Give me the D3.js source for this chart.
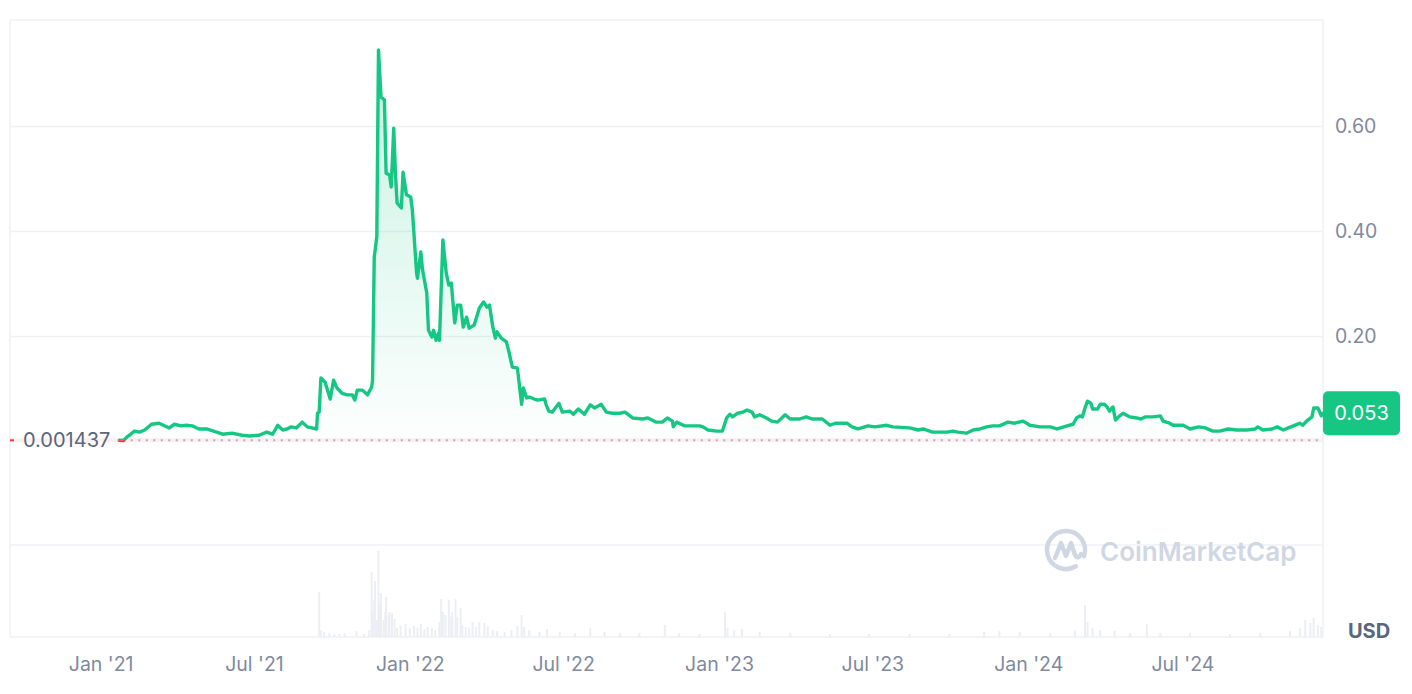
<!DOCTYPE html>
<html>
<head>
<meta charset="utf-8">
<script src="https://cdn.jsdelivr.net/npm/d3@7"></script>
<style>
  html, body { margin: 0; padding: 0; background: #fff; }
  svg { display: block; font-family: Inter, "Noto Sans", sans-serif; }
</style>
</head>
<body>
<svg id="chart" width="1412" height="694"></svg>
<script>
// price series (USD)
const priceDates = [
  "2021-01-23","2021-01-28","2021-02-01","2021-02-10","2021-02-16","2021-02-22","2021-03-02","2021-03-11","2021-03-23","2021-03-29",
  "2021-04-06","2021-04-12","2021-04-19","2021-04-27","2021-05-06","2021-05-18","2021-05-25","2021-06-05","2021-06-17","2021-06-26",
  "2021-07-07","2021-07-16","2021-07-23","2021-07-29","2021-08-04","2021-08-09","2021-08-14","2021-08-20","2021-08-27","2021-09-02",
  "2021-09-13","2021-09-14","2021-09-16","2021-09-18","2021-09-23","2021-09-29","2021-10-03","2021-10-07","2021-10-13","2021-10-19",
  "2021-10-25","2021-10-28","2021-10-31","2021-11-06","2021-11-12","2021-11-17","2021-11-18","2021-11-20","2021-11-23","2021-11-25",
  "2021-11-28","2021-12-02","2021-12-04","2021-12-08","2021-12-10","2021-12-13","2021-12-15","2021-12-17","2021-12-22","2021-12-24",
  "2021-12-28",
  "2022-01-02","2022-01-04","2022-01-09","2022-01-10","2022-01-14","2022-01-16","2022-01-21","2022-01-23","2022-01-27","2022-01-29",
  "2022-02-01","2022-02-04","2022-02-05","2022-02-09","2022-02-13","2022-02-16","2022-02-19","2022-02-23","2022-02-26","2022-03-02",
  "2022-03-05","2022-03-09","2022-03-12","2022-03-18","2022-03-24","2022-03-29","2022-04-02","2022-04-05","2022-04-09","2022-04-12",
  "2022-04-14","2022-04-19","2022-04-25","2022-04-28","2022-05-02","2022-05-08","2022-05-13","2022-05-15","2022-05-19","2022-05-22",
  "2022-05-28","2022-06-01","2022-06-09","2022-06-11","2022-06-14","2022-06-18","2022-06-26","2022-06-30","2022-07-09","2022-07-13",
  "2022-07-19","2022-07-26","2022-08-02","2022-08-07","2022-08-15","2022-08-21","2022-08-28","2022-09-06","2022-09-12","2022-09-21",
  "2022-10-03","2022-10-09","2022-10-19","2022-10-26","2022-11-01","2022-11-07","2022-11-08","2022-11-12","2022-11-21","2022-12-09",
  "2022-12-13","2022-12-19","2022-12-29",
  "2023-01-05","2023-01-10","2023-01-14","2023-01-17","2023-01-23","2023-01-29","2023-02-03","2023-02-09","2023-02-12","2023-02-18",
  "2023-02-26","2023-03-04","2023-03-11","2023-03-20","2023-03-26","2023-04-06","2023-04-14","2023-04-21","2023-05-03","2023-05-12",
  "2023-05-18","2023-06-01","2023-06-07","2023-06-14","2023-06-26","2023-07-04","2023-07-18","2023-07-25","2023-08-14","2023-08-24",
  "2023-08-30","2023-09-10","2023-09-27","2023-10-04","2023-10-10","2023-10-20","2023-10-28","2023-11-05","2023-11-13","2023-11-20",
  "2023-11-28","2023-12-08","2023-12-16","2023-12-26",
  "2024-01-03","2024-01-15","2024-01-27","2024-02-04","2024-02-16","2024-02-23","2024-02-27","2024-03-02","2024-03-05","2024-03-08",
  "2024-03-11","2024-03-15","2024-03-17","2024-03-23","2024-03-26","2024-03-31","2024-04-03","2024-04-06","2024-04-10","2024-04-13",
  "2024-04-18","2024-04-22","2024-04-30","2024-05-08","2024-05-13","2024-05-18","2024-05-27","2024-06-05","2024-06-08","2024-06-16",
  "2024-06-20","2024-07-02","2024-07-10","2024-07-20","2024-07-28","2024-08-06","2024-08-14","2024-08-24","2024-09-03","2024-09-15",
  "2024-09-25","2024-09-28","2024-10-04","2024-10-15","2024-10-21","2024-10-28","2024-11-03","2024-11-09","2024-11-17","2024-11-20",
  "2024-11-26","2024-12-01","2024-12-03","2024-12-08","2024-12-12","2024-12-14"
];
const priceValues = [
  0.001437,0.0011,0.0076,0.019,0.017,0.021,0.032,0.034,0.025,0.032,
  0.029,0.030,0.029,0.023,0.023,0.017,0.013,0.015,0.011,0.0095,
  0.011,0.017,0.013,0.030,0.021,0.023,0.027,0.025,0.036,0.027,
  0.023,0.053,0.055,0.120,0.112,0.080,0.116,0.101,0.091,0.088,
  0.088,0.078,0.097,0.097,0.088,0.103,0.116,0.350,0.389,0.745,
  0.655,0.650,0.510,0.507,0.484,0.596,0.510,0.453,0.444,0.512,
  0.469,
  0.465,0.440,0.320,0.310,0.360,0.326,0.282,0.211,0.198,0.211,
  0.192,0.206,0.192,0.383,0.320,0.297,0.301,0.225,0.259,0.259,
  0.217,0.236,0.215,0.221,0.253,0.265,0.255,0.259,0.217,0.196,
  0.208,0.196,0.189,0.170,0.141,0.139,0.070,0.101,0.082,0.084,
  0.080,0.078,0.080,0.069,0.057,0.055,0.072,0.055,0.057,0.051,
  0.061,0.051,0.069,0.063,0.070,0.055,0.053,0.053,0.055,0.044,
  0.042,0.044,0.036,0.036,0.044,0.038,0.027,0.036,0.029,0.029,
  0.027,0.021,0.019,
  0.019,0.044,0.051,0.046,0.053,0.055,0.059,0.055,0.046,0.050,
  0.044,0.038,0.036,0.050,0.042,0.042,0.046,0.042,0.042,0.030,
  0.034,0.034,0.027,0.023,0.029,0.027,0.030,0.027,0.025,0.021,
  0.023,0.017,0.017,0.019,0.017,0.015,0.021,0.023,0.027,0.029,
  0.029,0.036,0.034,0.038,
  0.030,0.027,0.027,0.023,0.029,0.032,0.044,0.048,0.046,0.063,
  0.076,0.072,0.061,0.061,0.070,0.070,0.065,0.057,0.065,0.040,
  0.048,0.053,0.046,0.044,0.042,0.046,0.046,0.048,0.038,0.034,
  0.030,0.030,0.023,0.027,0.025,0.019,0.019,0.023,0.021,0.021,
  0.023,0.027,0.021,0.023,0.027,0.021,0.025,0.029,0.034,0.030,
  0.040,0.046,0.063,0.063,0.048,0.053
];

// trading volume (millions USD)
const volDates = [
  "2021-09-16","2021-09-18","2021-09-22","2021-09-28","2021-10-04","2021-10-10","2021-10-16","2021-10-30","2021-11-08","2021-11-14",
  "2021-11-17","2021-11-18","2021-11-20","2021-11-21","2021-11-23","2021-11-25","2021-11-26","2021-11-28","2021-12-01","2021-12-03",
  "2021-12-04","2021-12-07","2021-12-08","2021-12-11","2021-12-14","2021-12-17","2021-12-21","2021-12-27","2022-01-01","2022-01-06",
  "2022-01-10","2022-01-14","2022-01-18","2022-01-22","2022-01-27","2022-01-31","2022-02-05","2022-02-07","2022-02-09","2022-02-12",
  "2022-02-16","2022-02-19","2022-02-20","2022-02-24","2022-02-26","2022-03-02","2022-03-04","2022-03-08","2022-03-12","2022-03-16",
  "2022-03-20","2022-03-24","2022-03-30","2022-04-03","2022-04-09","2022-04-14","2022-04-23","2022-05-01","2022-05-08","2022-05-13",
  "2022-05-16","2022-05-22","2022-06-03","2022-06-12","2022-06-27","2022-07-15","2022-08-02","2022-08-19","2022-09-06","2022-09-29",
  "2022-10-29","2022-11-15","2022-12-09","2023-01-08","2023-01-11","2023-01-19","2023-01-28","2023-02-18","2023-03-26","2023-05-12",
  "2023-06-27","2023-08-14","2023-09-30","2023-11-10","2023-11-28","2023-12-22","2024-01-27","2024-02-25","2024-03-08","2024-03-11",
  "2024-03-17","2024-03-26","2024-04-12","2024-04-30","2024-05-20","2024-06-05","2024-07-10","2024-08-26","2024-10-01","2024-11-05",
  "2024-11-17","2024-11-23","2024-11-29","2024-12-03","2024-12-08","2024-12-12"
];
const volValues = [
  450,70,50,40,30,30,40,60,30,70,
  650,240,370,560,170,860,320,440,170,250,
  400,220,250,240,180,90,110,130,90,110,
  90,130,80,100,90,70,150,380,250,220,
  370,200,250,380,200,290,120,100,90,150,
  100,150,140,110,70,60,50,70,110,220,
  100,70,50,80,50,40,90,50,40,40,
  120,40,30,250,90,70,80,50,40,30,
  30,30,30,50,60,50,40,70,320,150,
  90,70,60,40,130,40,40,30,40,60,
  90,170,140,190,120,100
];

const xTickDates = ["2021-01-01","2021-07-01","2022-01-01","2022-07-01","2023-01-01","2023-07-01","2024-01-01","2024-07-01"];
const xTickLabels = ["Jan '21","Jul '21","Jan '22","Jul '22","Jan '23","Jul '23","Jan '24","Jul '24"];
const yTickValues = [0.2, 0.4, 0.6];
const startPrice = 0.001437;
const lastPrice = 0.053;

const parse = d3.utcParse("%Y-%m-%d");
const prices = priceDates.map((d, i) => ({ date: parse(d), value: priceValues[i] }));
const volumes = volDates.map((d, i) => ({ date: parse(d), value: volValues[i] }));

const svg = d3.select("#chart");
const plotLeft = 10, plotRight = 1323, plotTop = 20, priceBottom = 545, volBottom = 637;
const gridColor = "#eff1f4";
const green = "#16c784", red = "#ea3943";

// scales
const x = d3.scaleUtc()
  .domain([parse("2020-09-16"), parse("2024-12-14")])
  .range([plotLeft, plotRight]);
const y = d3.scaleLinear().domain([-0.198, 0.802]).range([priceBottom, plotTop]);
const yVol = d3.scaleLinear().domain([0, 920]).range([volBottom, priceBottom]);

// frame lines
const frame = svg.append("g").attr("stroke", gridColor).attr("stroke-width", 1.5);
[plotTop, priceBottom, volBottom].forEach(v => {
  frame.append("line").attr("x1", plotLeft).attr("x2", plotRight).attr("y1", v).attr("y2", v);
});
[plotLeft, plotRight].forEach(v => {
  frame.append("line").attr("x1", v).attr("x2", v).attr("y1", plotTop).attr("y2", volBottom);
});

// y axis with gridlines
const yAxis = svg.append("g")
  .attr("transform", `translate(${plotRight},0)`)
  .call(d3.axisRight(y).tickValues(yTickValues).tickFormat(d3.format(".2f"))
    .tickSizeInner(-(plotRight - plotLeft)).tickSizeOuter(0).tickPadding(12));
yAxis.select(".domain").remove();
yAxis.selectAll(".tick line").attr("stroke", gridColor).attr("stroke-width", 1.5);
yAxis.selectAll(".tick text")
  .attr("fill", "#808a9d").attr("font-size", 19.5).attr("font-family", "Inter, sans-serif");

// x axis
const xAxis = svg.append("g")
  .attr("transform", `translate(0,${volBottom})`)
  .call(d3.axisBottom(x).tickValues(xTickDates.map(parse))
    .tickFormat((d, i) => xTickLabels[i]).tickSize(0).tickPadding(20));
xAxis.select(".domain").remove();
xAxis.selectAll(".tick text")
  .attr("fill", "#808a9d").attr("font-size", 19.5).attr("font-family", "Inter, sans-serif");

// volume bars
svg.append("g").selectAll("rect")
  .data(volumes)
  .join("rect")
  .attr("x", d => x(d.date) - 1)
  .attr("width", 2)
  .attr("y", d => yVol(d.value))
  .attr("height", d => volBottom - yVol(d.value))
  .attr("fill", "#eceef3");

// watermark
const wm = svg.append("g").attr("fill", "none").attr("stroke", "#cfd6e4")
  .attr("stroke-width", 4.5).attr("stroke-linecap", "round").attr("stroke-linejoin", "round");
const cx = 1066, cy = 550, r = 19;
const arc = d3.arc()({ innerRadius: r, outerRadius: r, startAngle: 2.6, endAngle: 2 * Math.PI + 1.9 });
wm.append("path").attr("d", arc).attr("transform", `translate(${cx},${cy})`);
wm.append("path").attr("d", `M${cx - 11},${cy + 8} L${cx - 5},${cy - 7} L${cx},${cy + 6} L${cx + 5},${cy - 7} L${cx + 9},${cy + 5} Q${cx + 12},${cy + 10} ${cx + 15},${cy + 4}`);
svg.append("text")
  .attr("x", 1100).attr("y", 561)
  .attr("font-size", 26).attr("font-weight", 600)
  .attr("fill", "#cfd6e4")
  .text("CoinMarketCap");

// area under line
const defs = svg.append("defs");
const grad = defs.append("linearGradient").attr("id", "areaGrad")
  .attr("gradientUnits", "userSpaceOnUse")
  .attr("x1", 0).attr("x2", 0).attr("y1", y(0.75)).attr("y2", y(startPrice));
grad.append("stop").attr("offset", 0).attr("stop-color", green).attr("stop-opacity", 0.24);
grad.append("stop").attr("offset", 1).attr("stop-color", green).attr("stop-opacity", 0.01);

const baseY = y(startPrice);
defs.append("clipPath").attr("id", "above").append("rect")
  .attr("x", 0).attr("y", 0).attr("width", 1412).attr("height", baseY);
defs.append("clipPath").attr("id", "below").append("rect")
  .attr("x", 0).attr("y", baseY).attr("width", 1412).attr("height", 694 - baseY);

svg.append("path")
  .datum(prices)
  .attr("fill", "url(#areaGrad)")
  .attr("clip-path", "url(#above)")
  .attr("d", d3.area().x(d => x(d.date)).y0(baseY).y1(d => y(d.value)));

// baseline band + dots
svg.append("line")
  .attr("x1", plotLeft).attr("x2", plotRight).attr("y1", baseY).attr("y2", baseY)
  .attr("stroke", red).attr("stroke-opacity", 0.08).attr("stroke-width", 4);
svg.append("line")
  .attr("x1", x(prices[0].date) + 4).attr("x2", plotRight).attr("y1", baseY).attr("y2", baseY)
  .attr("stroke", "#a7b1c2").attr("stroke-width", 2).attr("stroke-dasharray", "2,5.5");
svg.append("line")
  .attr("x1", plotLeft).attr("x2", plotLeft + 4).attr("y1", baseY).attr("y2", baseY)
  .attr("stroke", red).attr("stroke-width", 2);

// price line (green above the start price, red below)
const line = d3.line().x(d => x(d.date)).y(d => y(d.value));
svg.append("path").datum(prices)
  .attr("fill", "none").attr("stroke", green).attr("stroke-width", 3.4)
  .attr("stroke-linejoin", "round").attr("stroke-linecap", "round")
  .attr("clip-path", "url(#above)").attr("d", line);
svg.append("path").datum(prices)
  .attr("fill", "none").attr("stroke", red).attr("stroke-width", 3.4)
  .attr("stroke-linejoin", "round").attr("stroke-linecap", "round")
  .attr("clip-path", "url(#below)").attr("d", line);

// start price label
svg.append("text")
  .attr("x", 23).attr("y", baseY).attr("dy", "0.35em")
  .attr("font-size", 20).attr("fill", "#58667e")
  .text(d3.format(".6f")(startPrice));

// last price tag
const tagY = y(lastPrice);
svg.append("rect")
  .attr("x", plotRight).attr("y", tagY - 22).attr("width", 77).attr("height", 44)
  .attr("rx", 5).attr("fill", green);
svg.append("text")
  .attr("x", plotRight + 38.5).attr("y", tagY).attr("dy", "0.35em")
  .attr("text-anchor", "middle").attr("font-size", 20).attr("fill", "#fff")
  .text(d3.format(".3f")(lastPrice));

// currency label
svg.append("text")
  .attr("x", 1369).attr("y", 631).attr("dy", "0.35em")
  .attr("text-anchor", "middle").attr("font-size", 20).attr("font-weight", 700)
  .attr("fill", "#58667e")
  .text("USD");
</script>
</body>
</html>
